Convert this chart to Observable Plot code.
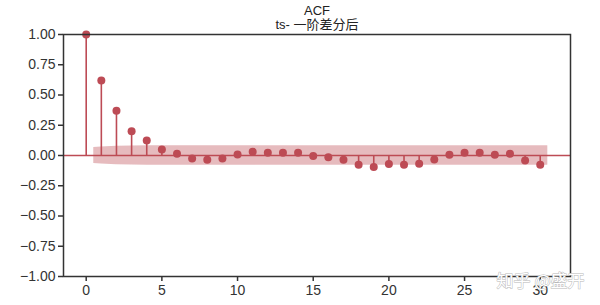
<!DOCTYPE html>
<html>
<head>
<meta charset="utf-8">
<script src="https://cdn.jsdelivr.net/npm/d3@7"></script>
<script src="https://cdn.jsdelivr.net/npm/@observablehq/plot@0.6"></script>
<style>
  html, body { margin: 0; padding: 0; background: #fff; }
</style>
</head>
<body>
<div id="chart"></div>
<script>
const titleText = "ACF";
const subtitleText = "ts- 一阶差分后";
const watermarkText = "知乎 @盛开";

const lags = [0, 1, 2, 3, 4, 5, 6, 7, 8, 9, 10, 11, 12, 13, 14, 15, 16, 17, 18, 19, 20, 21, 22, 23, 24, 25, 26, 27, 28, 29, 30];
const acfValues = [1.0, 0.62, 0.37, 0.2, 0.125, 0.05, 0.015, -0.025, -0.035, -0.025, 0.008, 0.03, 0.022, 0.022, 0.022, -0.004, -0.015, -0.035, -0.077, -0.096, -0.07, -0.077, -0.069, -0.033, 0.006, 0.022, 0.022, 0.006, 0.014, -0.041, -0.077];

const bandLags = [0.5, 1, 2, 3, 4, 5, 6, 7, 8, 9, 10, 11, 12, 13, 14, 15, 16, 17, 18, 19, 20, 21, 22, 23, 24, 25, 26, 27, 28, 29, 30, 30.5];
const bandHalf = [0.066, 0.07, 0.076, 0.079, 0.08, 0.08, 0.08, 0.08, 0.08, 0.08, 0.08, 0.08, 0.08, 0.08, 0.08, 0.08, 0.08, 0.08, 0.08, 0.08, 0.08, 0.08, 0.08, 0.08, 0.08, 0.08, 0.08, 0.08, 0.08, 0.08, 0.08, 0.08];

const yTicks = [-1, -0.75, -0.5, -0.25, 0, 0.25, 0.5, 0.75, 1];
const xTicks = [0, 5, 10, 15, 20, 25, 30];

const acf = lags.map((l, i) => ({lag: l, value: acfValues[i]}));
const band = bandLags.map((l, i) => ({lag: l, lo: -bandHalf[i], hi: bandHalf[i]}));

const red = "#bd4b55";
const ink = "#333333";
const fmt = d => d3.format(".2f")(d).replace("-", "\u2212");

const chart = Plot.plot({
  width: 600,
  height: 305,
  marginTop: 34,
  marginBottom: 29,
  marginLeft: 63,
  marginRight: 30,
  style: {fontFamily: "'Liberation Sans', Arial, sans-serif", fontSize: "14px", color: ink, background: "#fff", overflow: "visible"},
  x: {domain: [-1.5, 32], ticks: xTicks, tickSize: 5, tickPadding: 4, label: null},
  y: {domain: [-1, 1], ticks: yTicks, tickFormat: fmt, tickSize: 5, tickPadding: 3, label: null},
  marks: [
    Plot.ruleX(acf, {x: "lag", y1: 0, y2: "value", stroke: red, strokeWidth: 1.6}),
    Plot.dot(acf, {x: "lag", y: "value", r: 4, fill: red, stroke: "none"}),
    Plot.ruleY([0], {stroke: red, strokeWidth: 1.6}),
    Plot.areaY(band, {x: "lag", y1: "lo", y2: "hi", fill: red, fillOpacity: 0.38}),
    Plot.frame({stroke: ink, strokeWidth: 1.5}),
    Plot.axisX({ticks: xTicks, tickSize: 5, tickPadding: 4, stroke: ink, strokeWidth: 1.5, fontSize: 14, label: null}),
    Plot.axisY({ticks: yTicks, tickFormat: fmt, tickSize: 5, tickPadding: 3, stroke: ink, strokeWidth: 1.5, fontSize: 14, label: null}),
    Plot.text([titleText], {frameAnchor: "top", dy: -24, fontSize: 13, fill: "#222", lineAnchor: "middle"}),
    Plot.text([subtitleText], {frameAnchor: "top", dy: -9.5, fontSize: 13, fill: "#222", lineAnchor: "middle", fontFamily: "'Liberation Sans', 'Noto Sans CJK SC', sans-serif"}),
    Plot.text([watermarkText], {frameAnchor: "bottom-right", dx: 14, dy: 5, textAnchor: "end", lineAnchor: "middle", fontSize: 17, fill: "#ffffff", stroke: "#b8b8b8", strokeWidth: 1, fontFamily: "'Noto Sans CJK SC', sans-serif"})
  ]
});
document.getElementById("chart").appendChild(chart);
</script>
</body>
</html>
